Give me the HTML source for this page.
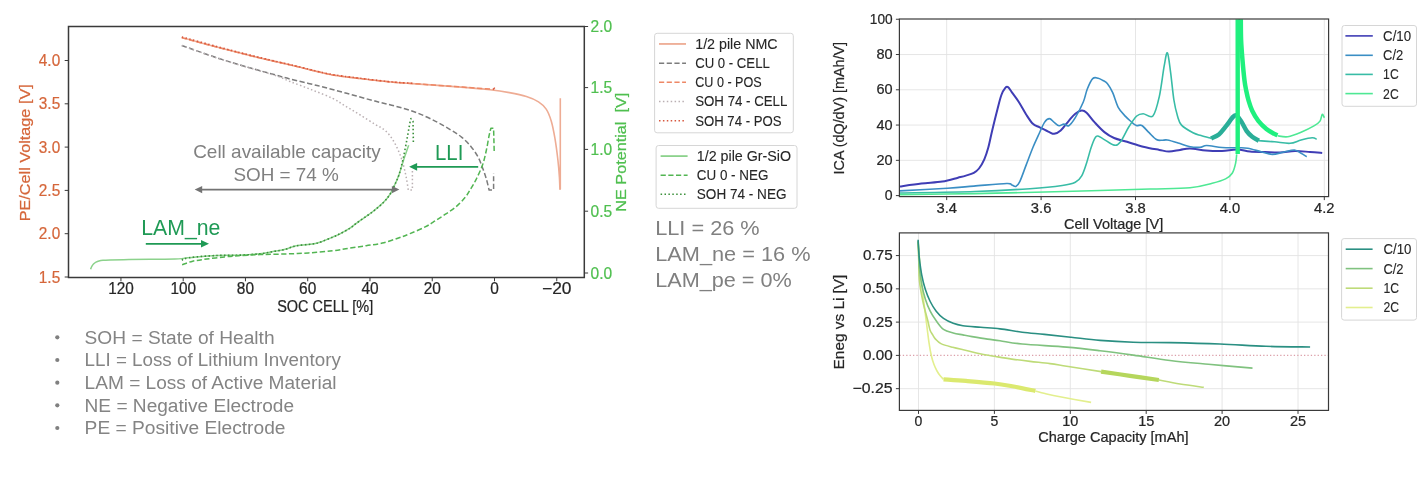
<!DOCTYPE html>
<html><head><meta charset="utf-8"><style>
html,body{margin:0;padding:0;background:#fff;width:1424px;height:495px;overflow:hidden;}
svg{display:block;font-family:"Liberation Sans", sans-serif;filter:blur(0.3px);}
</style></head><body>
<svg width="1424" height="495" viewBox="0 0 1424 495">
<path d="M181.8,37.6 C188.25,39.35 208.23,44.88 220.5,48.1 C232.77,51.32 242.87,53.87 255.4,56.9 C267.93,59.93 283.27,63.37 295.7,66.3 C308.13,69.23 319.02,72.42 330,74.5 C340.98,76.58 351.07,77.5 361.6,78.8 C372.13,80.1 384.77,81.5 393.2,82.3 C401.63,83.1 400.9,82.8 412.2,83.6 C423.5,84.4 448.03,86.08 461,87.1 C473.97,88.12 481.93,88.78 490,89.7 C498.07,90.62 503.33,91.47 509.4,92.6 C515.47,93.73 521.55,94.97 526.4,96.5 C531.25,98.03 535.2,99.7 538.5,101.8 C541.8,103.9 544.07,105.87 546.2,109.1 C548.33,112.33 549.85,116.35 551.3,121.2 C552.75,126.05 553.8,131.73 554.9,138.2 C556,144.67 557.15,153.53 557.9,160 C558.65,166.47 559.07,172.15 559.4,177 C559.73,181.85 559.82,187.08 559.9,189.1 L560.3,189.1 L560.3,98.2" fill="none" stroke="#eeac94" stroke-width="1.6" stroke-linejoin="round" />
<path d="M181.8,37.8 C188.25,39.5 208.23,44.83 220.5,48 C232.77,51.17 242.87,53.77 255.4,56.8 C267.93,59.83 283.27,63.27 295.7,66.2 C308.13,69.13 319.02,72.32 330,74.4 C340.98,76.48 351.07,77.4 361.6,78.7 C372.13,80 384.77,81.4 393.2,82.2 C401.63,83 400.9,82.7 412.2,83.5 C423.5,84.3 447.33,86.02 461,87 C474.67,87.98 488.67,89 494.2,89.4" fill="none" stroke="#ee8866" stroke-width="1.5" stroke-dasharray="5.2 2.5" stroke-linejoin="round" />
<path d="M181.8,36.9 C188.25,38.67 208.23,44.23 220.5,47.5 C232.77,50.77 242.87,53.42 255.4,56.5 C267.93,59.58 283.27,63.07 295.7,66 C308.13,68.93 319.02,72.02 330,74.1 C340.98,76.18 351.07,77.18 361.6,78.5 C372.13,79.82 384.77,81.2 393.2,82 C401.63,82.8 409.03,83.08 412.2,83.3" fill="none" stroke="#d8583f" stroke-width="1.6" stroke-dasharray="1.5 2.4" stroke-linejoin="round" />
<line x1="493.2" y1="89.5" x2="494.8" y2="87.6" stroke="#d8583f" stroke-width="1.4" />
<path d="M181.8,45.5 C187.67,47.55 206.42,54.3 217,57.8 C227.58,61.3 235.53,63.63 245.3,66.5 C255.07,69.37 268.15,72.92 275.6,75 C283.05,77.08 282.88,77.2 290,79 C297.12,80.8 308.87,83.42 318.3,85.8 C327.73,88.18 337.15,90.75 346.6,93.3 C356.05,95.85 366.9,98.97 375,101.1 C383.1,103.23 388.47,104.25 395.2,106.1 C401.93,107.95 408.67,109.67 415.4,112.2 C422.13,114.73 429.68,118.33 435.6,121.3 C441.52,124.27 446.53,127.33 450.9,130 C455.27,132.67 458.47,134.57 461.8,137.3 C465.13,140.03 468.17,143.07 470.9,146.4 C473.63,149.73 476.23,153.67 478.2,157.3 C480.17,160.93 481.33,164.57 482.7,168.2 C484.07,171.83 485.33,175.47 486.4,179.1 C487.47,182.73 488.65,188.18 489.1,190 L493.6,190 L493.6,173.6" fill="none" stroke="#7c7c7c" stroke-width="1.5" stroke-dasharray="5.2 2.5" stroke-linejoin="round" />
<path d="M181.8,45.6 C187.67,47.67 206.42,54.48 217,58 C227.58,61.52 235.53,63.77 245.3,66.7 C255.07,69.63 268.15,73.13 275.6,75.6 C283.05,78.07 284.07,79.17 290,81.5 C295.93,83.83 304.13,86.8 311.2,89.6 C318.27,92.4 326.5,95.43 332.4,98.3 C338.3,101.17 341.88,103.97 346.6,106.8 C351.32,109.63 355.97,112.38 360.7,115.3 C365.43,118.22 370.93,121.78 375,124.3 C379.07,126.82 382.07,127.7 385.1,130.4 C388.13,133.1 390.85,136.8 393.2,140.5 C395.55,144.2 397.52,148.57 399.2,152.6 C400.88,156.63 402.12,160.5 403.3,164.7 C404.48,168.9 405.47,173.58 406.3,177.8 C407.13,182.02 407.97,187.97 408.3,190 L412.4,190 L412.4,171" fill="none" stroke="#bab0b3" stroke-width="1.5" stroke-dasharray="1.5 2.4" stroke-linejoin="round" />
<path d="M90.6,269.2 C90.8,268.72 91.32,267.17 91.8,266.3 C92.28,265.43 92.8,264.7 93.5,264 C94.2,263.3 95.08,262.62 96,262.1 C96.92,261.58 97.83,261.2 99,260.9 C100.17,260.6 101.17,260.45 103,260.3 C104.83,260.15 105.67,260.12 110,260 C114.33,259.88 122.33,259.72 129,259.6 C135.67,259.48 142.33,259.4 150,259.3 C157.67,259.2 169.42,259.15 175,259 C180.58,258.85 179.97,258.75 183.5,258.4 C187.03,258.05 190.55,257.38 196.2,256.9 C201.85,256.42 210.33,255.78 217.4,255.5 C224.47,255.22 231.5,255.48 238.6,255.2 C245.7,254.92 254.42,254.38 260,253.8 C265.58,253.22 268.07,252.4 272.1,251.7 C276.13,251 280.17,250.58 284.2,249.6 C288.23,248.62 291.58,246.73 296.3,245.8 C301.02,244.87 308.45,244.63 312.5,244 C316.55,243.37 317.23,243.15 320.6,242 C323.97,240.85 329.47,238.47 332.7,237.1 C335.93,235.73 337.12,235.28 340,233.8 C342.88,232.32 347.3,229.95 350,228.2 C352.7,226.45 352.48,226 356.2,223.3 C359.92,220.6 367.73,215.5 372.3,212 C376.87,208.5 380.63,205.27 383.6,202.3 C386.57,199.33 388.22,197.17 390.1,194.2 C391.98,191.23 393.42,187.73 394.9,184.5 C396.38,181.27 397.5,179.05 399,174.8 C400.5,170.55 402.62,162.97 403.9,159 C405.18,155.03 405.9,153.3 406.7,151 C407.5,148.7 408.37,146.17 408.7,145.2" fill="none" stroke="#8cd28c" stroke-width="1.5" stroke-linejoin="round" />
<path d="M182.1,260.5 C182.45,260.22 181.85,259.4 184.2,258.8 C186.55,258.2 190.67,257.45 196.2,256.9 C201.73,256.35 210.33,255.78 217.4,255.5 C224.47,255.22 231.5,255.48 238.6,255.2 C245.7,254.92 254.42,254.38 260,253.8 C265.58,253.22 268.07,252.4 272.1,251.7 C276.13,251 280.17,250.58 284.2,249.6 C288.23,248.62 291.58,246.73 296.3,245.8 C301.02,244.87 308.45,244.63 312.5,244 C316.55,243.37 317.23,243.15 320.6,242 C323.97,240.85 329.47,238.47 332.7,237.1 C335.93,235.73 337.12,235.28 340,233.8 C342.88,232.32 347.3,229.95 350,228.2 C352.7,226.45 352.48,226 356.2,223.3 C359.92,220.6 367.73,215.5 372.3,212 C376.87,208.5 380.63,205.27 383.6,202.3 C386.57,199.33 388.22,197.17 390.1,194.2 C391.98,191.23 393.42,187.73 394.9,184.5 C396.38,181.27 397.6,179.22 399,174.8 C400.4,170.38 401.92,164.23 403.3,158 C404.68,151.77 406.12,143.68 407.3,137.4 C408.48,131.12 409.72,123.33 410.4,120.3 C411.08,117.27 411.23,119.38 411.4,119.2 L413,121.3 L413.4,144.5" fill="none" stroke="#3a8f3a" stroke-width="1.6" stroke-dasharray="1.5 2.4" stroke-linejoin="round" />
<path d="M182.1,264.7 C183.87,264.12 188.58,262.15 192.7,261.2 C196.82,260.25 201.5,259.72 206.8,259 C212.1,258.28 219.2,257.45 224.5,256.9 C229.8,256.35 232.68,256.08 238.6,255.7 C244.52,255.32 252.4,254.88 260,254.6 C267.6,254.32 276.12,254.28 284.2,254 C292.28,253.72 300.42,253.43 308.5,252.9 C316.58,252.37 325.78,251.6 332.7,250.8 C339.62,250 344.42,248.95 350,248.1 C355.58,247.25 360.82,246.53 366.2,245.7 C371.58,244.87 376.92,244.38 382.3,243.1 C387.68,241.82 393.88,239.58 398.5,238 C403.12,236.42 405.55,235.45 410,233.6 C414.45,231.75 420.98,229.03 425.2,226.9 C429.42,224.77 431.93,222.92 435.3,220.8 C438.67,218.68 442.03,216.47 445.4,214.2 C448.77,211.93 452.23,209.97 455.5,207.2 C458.77,204.43 462.43,200.7 465,197.6 C467.57,194.5 468.97,191.78 470.9,188.6 C472.83,185.42 474.63,182.52 476.6,178.5 C478.57,174.48 481.07,169.25 482.7,164.5 C484.33,159.75 485.33,154.83 486.4,150 C487.47,145.17 488.35,139.13 489.1,135.5 C489.85,131.87 490.6,129.42 490.9,128.2 L493.6,128.2 L494.2,151.8" fill="none" stroke="#52b552" stroke-width="1.5" stroke-dasharray="5.2 2.5" stroke-linejoin="round" />
<rect x="68.5" y="26.5" width="515.8" height="251" fill="none" stroke="#3a3a3a" stroke-width="1.5" rx="0" />
<line x1="64.7" y1="277" x2="68.5" y2="277" stroke="#3a3a3a" stroke-width="1" />
<text x="60.2" y="282.6" font-size="15.8" fill="#d5663a" text-anchor="end" textLength="21.4" lengthAdjust="spacingAndGlyphs" stroke="#d5663a" stroke-width="0.22">1.5</text>
<line x1="64.7" y1="233.7" x2="68.5" y2="233.7" stroke="#3a3a3a" stroke-width="1" />
<text x="60.2" y="239.3" font-size="15.8" fill="#d5663a" text-anchor="end" textLength="21.4" lengthAdjust="spacingAndGlyphs" stroke="#d5663a" stroke-width="0.22">2.0</text>
<line x1="64.7" y1="190.4" x2="68.5" y2="190.4" stroke="#3a3a3a" stroke-width="1" />
<text x="60.2" y="196" font-size="15.8" fill="#d5663a" text-anchor="end" textLength="21.4" lengthAdjust="spacingAndGlyphs" stroke="#d5663a" stroke-width="0.22">2.5</text>
<line x1="64.7" y1="147.1" x2="68.5" y2="147.1" stroke="#3a3a3a" stroke-width="1" />
<text x="60.2" y="152.7" font-size="15.8" fill="#d5663a" text-anchor="end" textLength="21.4" lengthAdjust="spacingAndGlyphs" stroke="#d5663a" stroke-width="0.22">3.0</text>
<line x1="64.7" y1="103.8" x2="68.5" y2="103.8" stroke="#3a3a3a" stroke-width="1" />
<text x="60.2" y="109.4" font-size="15.8" fill="#d5663a" text-anchor="end" textLength="21.4" lengthAdjust="spacingAndGlyphs" stroke="#d5663a" stroke-width="0.22">3.5</text>
<line x1="64.7" y1="60.5" x2="68.5" y2="60.5" stroke="#3a3a3a" stroke-width="1" />
<text x="60.2" y="66.1" font-size="15.8" fill="#d5663a" text-anchor="end" textLength="21.4" lengthAdjust="spacingAndGlyphs" stroke="#d5663a" stroke-width="0.22">4.0</text>
<line x1="584.3" y1="273" x2="588.1" y2="273" stroke="#3a3a3a" stroke-width="1" />
<text x="590.6" y="278.6" font-size="15.8" fill="#4fbf4f" textLength="21.6" lengthAdjust="spacingAndGlyphs" stroke="#4fbf4f" stroke-width="0.22">0.0</text>
<line x1="584.3" y1="211.2" x2="588.1" y2="211.2" stroke="#3a3a3a" stroke-width="1" />
<text x="590.6" y="216.8" font-size="15.8" fill="#4fbf4f" textLength="21.6" lengthAdjust="spacingAndGlyphs" stroke="#4fbf4f" stroke-width="0.22">0.5</text>
<line x1="584.3" y1="149.4" x2="588.1" y2="149.4" stroke="#3a3a3a" stroke-width="1" />
<text x="590.6" y="155" font-size="15.8" fill="#4fbf4f" textLength="21.6" lengthAdjust="spacingAndGlyphs" stroke="#4fbf4f" stroke-width="0.22">1.0</text>
<line x1="584.3" y1="87.6" x2="588.1" y2="87.6" stroke="#3a3a3a" stroke-width="1" />
<text x="590.6" y="93.2" font-size="15.8" fill="#4fbf4f" textLength="21.6" lengthAdjust="spacingAndGlyphs" stroke="#4fbf4f" stroke-width="0.22">1.5</text>
<line x1="584.3" y1="26.5" x2="588.1" y2="26.5" stroke="#3a3a3a" stroke-width="1" />
<text x="590.6" y="32.1" font-size="15.8" fill="#4fbf4f" textLength="21.6" lengthAdjust="spacingAndGlyphs" stroke="#4fbf4f" stroke-width="0.22">2.0</text>
<line x1="120.94" y1="277.5" x2="120.94" y2="281.3" stroke="#3a3a3a" stroke-width="1" />
<text x="120.94" y="294.4" font-size="15.6" fill="#262626" text-anchor="middle" textLength="25.6" lengthAdjust="spacingAndGlyphs" stroke="#262626" stroke-width="0.22">120</text>
<line x1="183.2" y1="277.5" x2="183.2" y2="281.3" stroke="#3a3a3a" stroke-width="1" />
<text x="183.2" y="294.4" font-size="15.6" fill="#262626" text-anchor="middle" textLength="25.6" lengthAdjust="spacingAndGlyphs" stroke="#262626" stroke-width="0.22">100</text>
<line x1="245.46" y1="277.5" x2="245.46" y2="281.3" stroke="#3a3a3a" stroke-width="1" />
<text x="245.46" y="294.4" font-size="15.6" fill="#262626" text-anchor="middle" textLength="17.2" lengthAdjust="spacingAndGlyphs" stroke="#262626" stroke-width="0.22">80</text>
<line x1="307.72" y1="277.5" x2="307.72" y2="281.3" stroke="#3a3a3a" stroke-width="1" />
<text x="307.72" y="294.4" font-size="15.6" fill="#262626" text-anchor="middle" textLength="17.2" lengthAdjust="spacingAndGlyphs" stroke="#262626" stroke-width="0.22">60</text>
<line x1="369.98" y1="277.5" x2="369.98" y2="281.3" stroke="#3a3a3a" stroke-width="1" />
<text x="369.98" y="294.4" font-size="15.6" fill="#262626" text-anchor="middle" textLength="17.2" lengthAdjust="spacingAndGlyphs" stroke="#262626" stroke-width="0.22">40</text>
<line x1="432.24" y1="277.5" x2="432.24" y2="281.3" stroke="#3a3a3a" stroke-width="1" />
<text x="432.24" y="294.4" font-size="15.6" fill="#262626" text-anchor="middle" textLength="17.2" lengthAdjust="spacingAndGlyphs" stroke="#262626" stroke-width="0.22">20</text>
<line x1="494.5" y1="277.5" x2="494.5" y2="281.3" stroke="#3a3a3a" stroke-width="1" />
<text x="494.5" y="294.4" font-size="15.6" fill="#262626" text-anchor="middle" textLength="8.6" lengthAdjust="spacingAndGlyphs" stroke="#262626" stroke-width="0.22">0</text>
<line x1="556.76" y1="277.5" x2="556.76" y2="281.3" stroke="#3a3a3a" stroke-width="1" />
<text x="556.76" y="294.4" font-size="15.6" fill="#262626" text-anchor="middle" textLength="29.4" lengthAdjust="spacingAndGlyphs" stroke="#262626" stroke-width="0.22">−20</text>
<text x="325.2" y="312" font-size="15.6" fill="#262626" text-anchor="middle" textLength="96" lengthAdjust="spacingAndGlyphs" stroke="#262626" stroke-width="0.22">SOC CELL [%]</text>
<text x="29.9" y="152.8" font-size="14.2" fill="#d5663a" text-anchor="middle" textLength="137" lengthAdjust="spacingAndGlyphs" transform="rotate(-90 29.9 152.8)" stroke="#d5663a" stroke-width="0.22">PE/Cell Voltage [V]</text>
<text x="626.4" y="152.2" font-size="14.2" fill="#4fbf4f" text-anchor="middle" textLength="119" lengthAdjust="spacingAndGlyphs" transform="rotate(-90 626.4 152.2)" stroke="#4fbf4f" stroke-width="0.22">NE Potential  [V]</text>
<text x="193.2" y="157.8" font-size="18.6" fill="#808080" textLength="187.5" lengthAdjust="spacingAndGlyphs" >Cell available capacity</text>
<text x="233.4" y="180.7" font-size="18.6" fill="#808080" textLength="105.5" lengthAdjust="spacingAndGlyphs" >SOH = 74 %</text>
<line x1="200" y1="189.6" x2="394" y2="189.6" stroke="#737373" stroke-width="1.6" />
<path d="M194.7,189.6 L202.2,185.9 L202.2,193.3 Z" fill="#737373"/>
<path d="M399.4,189.6 L391.9,185.9 L391.9,193.3 Z" fill="#737373"/>
<text x="435" y="159.8" font-size="21.4" fill="#1f9a55" textLength="28.3" lengthAdjust="spacingAndGlyphs" >LLI</text>
<line x1="415" y1="166.9" x2="478.2" y2="166.9" stroke="#1f9a55" stroke-width="1.8" />
<path d="M409.1,166.8 L417.1,162.9 L417.1,170.7 Z" fill="#1f9a55"/>
<text x="141.2" y="235" font-size="21.4" fill="#1f9a55" textLength="79.2" lengthAdjust="spacingAndGlyphs" >LAM_ne</text>
<line x1="145.8" y1="243.9" x2="202" y2="243.9" stroke="#1f9a55" stroke-width="1.8" />
<path d="M209,243.8 L201,240 L201,247.6 Z" fill="#1f9a55"/>
<rect x="654.6" y="33.3" width="138.7" height="99.5" fill="#ffffff" stroke="#d6d6d6" stroke-width="1" rx="2.5" />
<line x1="659" y1="43.95" x2="686" y2="43.95" stroke="#eeac94" stroke-width="1.8" />
<text x="695.2" y="48.75" font-size="14" fill="#262626" textLength="82.5" lengthAdjust="spacingAndGlyphs" stroke="#262626" stroke-width="0.1">1/2 pile NMC</text>
<line x1="659" y1="63.14" x2="686" y2="63.14" stroke="#7c7c7c" stroke-width="1.5" stroke-dasharray="5.2 2.5" />
<text x="695.2" y="67.94" font-size="14" fill="#262626" textLength="74.6" lengthAdjust="spacingAndGlyphs" stroke="#262626" stroke-width="0.1">CU 0 - CELL</text>
<line x1="659" y1="82.33" x2="686" y2="82.33" stroke="#ee8866" stroke-width="1.5" stroke-dasharray="5.2 2.5" />
<text x="695.2" y="87.13" font-size="14" fill="#262626" textLength="66.5" lengthAdjust="spacingAndGlyphs" stroke="#262626" stroke-width="0.1">CU 0 - POS</text>
<line x1="659" y1="101.52" x2="686" y2="101.52" stroke="#bab0b3" stroke-width="1.5" stroke-dasharray="1.5 2.4" />
<text x="695.2" y="106.32" font-size="14" fill="#262626" textLength="92.2" lengthAdjust="spacingAndGlyphs" stroke="#262626" stroke-width="0.1">SOH 74 - CELL</text>
<line x1="659" y1="120.71" x2="686" y2="120.71" stroke="#d8583f" stroke-width="1.5" stroke-dasharray="1.5 2.4" />
<text x="695.2" y="125.51" font-size="14" fill="#262626" textLength="86.3" lengthAdjust="spacingAndGlyphs" stroke="#262626" stroke-width="0.1">SOH 74 - POS</text>
<rect x="656.1" y="145.5" width="140.9" height="62.8" fill="#ffffff" stroke="#d6d6d6" stroke-width="1" rx="2.5" />
<line x1="660.6" y1="156.1" x2="687.6" y2="156.1" stroke="#8cd28c" stroke-width="1.8" />
<text x="696.8" y="160.9" font-size="14" fill="#262626" textLength="94.3" lengthAdjust="spacingAndGlyphs" stroke="#262626" stroke-width="0.1">1/2 pile Gr-SiO</text>
<line x1="660.6" y1="175.2" x2="687.6" y2="175.2" stroke="#52b552" stroke-width="1.5" stroke-dasharray="5.2 2.5" />
<text x="696.8" y="180" font-size="14" fill="#262626" textLength="71.6" lengthAdjust="spacingAndGlyphs" stroke="#262626" stroke-width="0.1">CU 0 - NEG</text>
<line x1="660.6" y1="194.3" x2="687.6" y2="194.3" stroke="#3a8f3a" stroke-width="1.5" stroke-dasharray="1.5 2.4" />
<text x="696.8" y="199.1" font-size="14" fill="#262626" textLength="89.7" lengthAdjust="spacingAndGlyphs" stroke="#262626" stroke-width="0.1">SOH 74 - NEG</text>
<text x="655.2" y="234.6" font-size="21" fill="#808080" textLength="104.5" lengthAdjust="spacingAndGlyphs" >LLI = 26 %</text>
<text x="655.2" y="261" font-size="21" fill="#808080" textLength="155.3" lengthAdjust="spacingAndGlyphs" >LAM_ne = 16 %</text>
<text x="655.2" y="286.6" font-size="21" fill="#808080" textLength="136.5" lengthAdjust="spacingAndGlyphs" >LAM_pe = 0%</text>
<circle cx="57.3" cy="337.3" r="2.1" fill="#808080"/>
<text x="84.6" y="343.5" font-size="17.6" fill="#848484" textLength="190" lengthAdjust="spacingAndGlyphs" >SOH = State of Health</text>
<circle cx="57.3" cy="359.98" r="2.1" fill="#808080"/>
<text x="84.6" y="366.18" font-size="17.6" fill="#848484" textLength="256.2" lengthAdjust="spacingAndGlyphs" >LLI = Loss of Lithium Inventory</text>
<circle cx="57.3" cy="382.66" r="2.1" fill="#808080"/>
<text x="84.6" y="388.86" font-size="17.6" fill="#848484" textLength="251.9" lengthAdjust="spacingAndGlyphs" >LAM = Loss of Active Material</text>
<circle cx="57.3" cy="405.34" r="2.1" fill="#808080"/>
<text x="84.6" y="411.54" font-size="17.6" fill="#848484" textLength="209.5" lengthAdjust="spacingAndGlyphs" >NE = Negative Electrode</text>
<circle cx="57.3" cy="428.02" r="2.1" fill="#808080"/>
<text x="84.6" y="434.22" font-size="17.6" fill="#848484" textLength="200.9" lengthAdjust="spacingAndGlyphs" >PE = Positive Electrode</text>
<line x1="946.7" y1="19" x2="946.7" y2="196.6" stroke="#e3e3e3" stroke-width="0.9" />
<line x1="1041.1" y1="19" x2="1041.1" y2="196.6" stroke="#e3e3e3" stroke-width="0.9" />
<line x1="1135.5" y1="19" x2="1135.5" y2="196.6" stroke="#e3e3e3" stroke-width="0.9" />
<line x1="1229.9" y1="19" x2="1229.9" y2="196.6" stroke="#e3e3e3" stroke-width="0.9" />
<line x1="1324.3" y1="19" x2="1324.3" y2="196.6" stroke="#e3e3e3" stroke-width="0.9" />
<line x1="899.4" y1="160.33" x2="1328.6" y2="160.33" stroke="#e3e3e3" stroke-width="0.9" />
<line x1="899.4" y1="125.06" x2="1328.6" y2="125.06" stroke="#e3e3e3" stroke-width="0.9" />
<line x1="899.4" y1="89.79" x2="1328.6" y2="89.79" stroke="#e3e3e3" stroke-width="0.9" />
<line x1="899.4" y1="54.52" x2="1328.6" y2="54.52" stroke="#e3e3e3" stroke-width="0.9" />
<path d="M899.4,186.6 C903.05,186.1 914.15,184.43 921.3,183.6 C928.45,182.77 936.18,182.58 942.3,181.6 C948.42,180.62 954.07,178.7 958,177.7 C961.93,176.7 963.27,176.42 965.9,175.6 C968.53,174.78 971.62,173.98 973.8,172.8 C975.98,171.62 977.25,170.75 979,168.5 C980.75,166.25 982.75,162.8 984.3,159.3 C985.85,155.8 986.98,152.32 988.3,147.5 C989.62,142.68 990.68,136.75 992.2,130.4 C993.72,124.05 995.87,115.3 997.4,109.4 C998.93,103.5 1000.08,98.58 1001.4,95 C1002.72,91.42 1004.2,89.22 1005.3,87.9 C1006.4,86.58 1006.9,86.37 1008,87.1 C1009.1,87.83 1010.15,89.9 1011.9,92.3 C1013.65,94.7 1016.1,97.77 1018.5,101.5 C1020.9,105.23 1023.9,110.98 1026.3,114.7 C1028.7,118.42 1030.67,121.7 1032.9,123.8 C1035.13,125.9 1036.95,125.92 1039.7,127.3 C1042.45,128.68 1046.98,131.02 1049.4,132.1 C1051.82,133.18 1052.32,134.07 1054.2,133.8 C1056.08,133.53 1058.27,132.67 1060.7,130.5 C1063.13,128.33 1066.37,123.6 1068.8,120.8 C1071.23,118 1073.15,115.42 1075.3,113.7 C1077.45,111.98 1079.82,110.67 1081.7,110.5 C1083.58,110.33 1084.43,110.72 1086.6,112.7 C1088.77,114.68 1091.73,119.17 1094.7,122.4 C1097.67,125.63 1101.17,129.5 1104.4,132.1 C1107.63,134.7 1110.33,136.38 1114.1,138 C1117.87,139.62 1122.15,140.35 1127,141.8 C1131.85,143.25 1137.82,145.35 1143.2,146.7 C1148.58,148.05 1155,149.1 1159.3,149.9 C1163.6,150.7 1165.55,151.5 1169,151.5 C1172.45,151.5 1176.5,150.4 1180,149.9 C1183.5,149.4 1185.67,148.4 1190,148.5 C1194.33,148.6 1200.67,150.08 1206,150.5 C1211.33,150.92 1216.83,151.17 1222,151 C1227.17,150.83 1232.33,149.42 1237,149.5 C1241.67,149.58 1245.33,151.08 1250,151.5 C1254.67,151.92 1260,151.83 1265,152 C1270,152.17 1275,152.67 1280,152.5 C1285,152.33 1290,151.08 1295,151 C1300,150.92 1305.47,151.67 1310,152 C1314.53,152.33 1320.17,152.83 1322.2,153" fill="none" stroke="#3f3db5" stroke-width="2" stroke-linejoin="round" />
<path d="M899.4,190.9 C907.42,190.45 935.1,189 947.5,188.2 C959.9,187.4 963.95,186.88 973.8,186.1 C983.65,185.32 1000.25,183.68 1006.6,183.5 C1012.95,183.32 1010.37,184.52 1011.9,185 C1013.43,185.48 1014.48,186.97 1015.8,186.4 C1017.12,185.83 1018.05,185.23 1019.8,181.6 C1021.55,177.97 1024.12,170.28 1026.3,164.6 C1028.48,158.92 1030.92,152.32 1032.9,147.5 C1034.88,142.68 1036.27,139.88 1038.2,135.7 C1040.13,131.52 1042.63,125.25 1044.5,122.4 C1046.37,119.55 1047.78,118.6 1049.4,118.6 C1051.02,118.6 1052.58,121.22 1054.2,122.4 C1055.82,123.58 1057.48,125.42 1059.1,125.7 C1060.72,125.98 1062.28,124.1 1063.9,124.1 C1065.52,124.1 1066.9,126.78 1068.8,125.7 C1070.7,124.62 1072.88,121.55 1075.3,117.6 C1077.72,113.65 1081.3,106.77 1083.3,102 C1085.3,97.23 1085.73,92.9 1087.3,89 C1088.87,85.1 1090.88,80.4 1092.7,78.6 C1094.52,76.8 1096.48,77.88 1098.2,78.2 C1099.92,78.52 1101.48,79.6 1103,80.5 C1104.52,81.4 1105.68,81.57 1107.3,83.6 C1108.92,85.63 1110.88,88.75 1112.7,92.7 C1114.52,96.65 1116.07,103.35 1118.2,107.3 C1120.33,111.25 1123.37,114.03 1125.5,116.4 C1127.63,118.77 1129.18,119.98 1131,121.5 C1132.82,123.02 1134.6,124.83 1136.4,125.5 C1138.2,126.17 1139.68,124.3 1141.8,125.5 C1143.92,126.7 1146.67,130.37 1149.1,132.7 C1151.53,135.03 1154.25,138.23 1156.4,139.5 C1158.55,140.77 1160.18,140.22 1162,140.3 C1163.82,140.38 1164.6,139.57 1167.3,140 C1170,140.43 1174.57,141.82 1178.2,142.9 C1181.83,143.98 1185.47,145.77 1189.1,146.5 C1192.73,147.23 1197.07,147.47 1200,147.3 C1202.93,147.13 1203.03,145.47 1206.7,145.5 C1210.37,145.53 1217,147.12 1222,147.5 C1227,147.88 1232.4,147.68 1236.7,147.8 C1241,147.92 1243.73,147.53 1247.8,148.2 C1251.87,148.87 1257.03,150.77 1261.1,151.8 C1265.17,152.83 1268.5,154.33 1272.2,154.4 C1275.9,154.47 1279.6,152.93 1283.3,152.2 C1287,151.47 1291.43,149.82 1294.4,150 C1297.37,150.18 1299.05,152.18 1301.1,153.3 C1303.15,154.42 1305.77,156.13 1306.7,156.7" fill="none" stroke="#3a8ec4" stroke-width="1.6" stroke-linejoin="round" />
<path d="M899.4,193 C912,192.75 953.23,192.22 975,191.5 C996.77,190.78 1015.45,189.7 1030,188.7 C1044.55,187.7 1054.75,186.57 1062.3,185.5 C1069.85,184.43 1072.07,183.92 1075.3,182.3 C1078.53,180.68 1079.82,179.03 1081.7,175.8 C1083.58,172.57 1084.98,167.75 1086.6,162.9 C1088.22,158.05 1089.78,151.13 1091.4,146.7 C1093.02,142.27 1094.42,137.65 1096.3,136.3 C1098.18,134.95 1099.73,137.13 1102.7,138.6 C1105.67,140.07 1111.13,144.57 1114.1,145.1 C1117.07,145.63 1118.08,144.77 1120.5,141.8 C1122.92,138.83 1125.9,131.6 1128.6,127.3 C1131.3,123 1134.27,118.27 1136.7,116 C1139.13,113.73 1140.5,113.7 1143.2,113.7 C1145.9,113.7 1150.22,118.85 1152.9,116 C1155.58,113.15 1157.42,104.95 1159.3,96.6 C1161.18,88.25 1162.85,73.18 1164.2,65.9 C1165.55,58.62 1166.33,51.83 1167.4,52.9 C1168.47,53.97 1169.52,64.45 1170.6,72.3 C1171.68,80.15 1172.75,92.72 1173.9,100 C1175.05,107.28 1176.23,111.82 1177.5,116 C1178.77,120.18 1178.92,122.3 1181.5,125.1 C1184.08,127.9 1189.73,131.05 1193,132.8 C1196.27,134.55 1198.08,134.67 1201.1,135.6 C1204.12,136.53 1209.43,137.93 1211.1,138.4" fill="none" stroke="#38bca6" stroke-width="1.6" stroke-linejoin="round" />
<path d="M1258.9,140.7 C1261.48,140.88 1269.22,141.37 1274.4,141.8 C1279.58,142.23 1285.55,143.6 1290,143.3 C1294.45,143 1297.4,140.92 1301.1,140 C1304.8,139.08 1309.6,137.92 1312.2,137.8 C1314.8,137.68 1315.95,139.05 1316.7,139.3" fill="none" stroke="#38bca6" stroke-width="1.6" stroke-linejoin="round" />
<path d="M1211.1,138.4 C1212.4,137.73 1216.48,136.35 1218.9,134.4 C1221.32,132.45 1223.2,129.65 1225.6,126.7 C1228,123.75 1231.45,118.55 1233.3,116.7 C1235.15,114.85 1235.4,114.87 1236.7,115.6 C1238,116.33 1239.43,118.52 1241.1,121.1 C1242.77,123.68 1244.85,128.5 1246.7,131.1 C1248.55,133.7 1250.17,135.1 1252.2,136.7 C1254.23,138.3 1257.78,140.03 1258.9,140.7" fill="none" stroke="#2aae98" stroke-width="4.5" stroke-linejoin="round" stroke-linecap="butt"/>
<path d="M899.4,194.6 C912,194.43 950.73,194.03 975,193.6 C999.27,193.17 1024.17,192.52 1045,192 C1065.83,191.48 1082.5,191 1100,190.5 C1117.5,190 1135,189.45 1150,189 C1165,188.55 1179.63,188.75 1190,187.8 C1200.37,186.85 1206.27,184.78 1212.2,183.3 C1218.13,181.82 1222.27,180.57 1225.6,178.9 C1228.93,177.23 1230.53,175.9 1232.2,173.3 C1233.87,170.7 1234.85,166.45 1235.6,163.3 C1236.35,160.15 1236.52,155.88 1236.7,154.4" fill="none" stroke="#4ee894" stroke-width="1.6" stroke-linejoin="round" />
<path d="M1277.5,135.8 C1279.22,135.95 1283.87,137.3 1287.8,136.7 C1291.73,136.1 1296.67,134.05 1301.1,132.2 C1305.53,130.35 1311.25,127.45 1314.4,125.6 C1317.55,123.75 1318.7,122.97 1320,121.1 C1321.3,119.23 1321.47,114.95 1322.2,114.4 C1322.93,113.85 1324.03,117.23 1324.4,117.8" fill="none" stroke="#4ee894" stroke-width="1.6" stroke-linejoin="round" />
<path d="M1237.7,154 L1237.7,19.2" fill="none" stroke="#1ff07e" stroke-width="4.4" stroke-linejoin="round" />
<path d="M1240.8,19.2 C1240.85,22.67 1240.82,33.17 1241.1,40 C1241.38,46.83 1241.93,53.47 1242.5,60.2 C1243.07,66.93 1243.88,75.35 1244.5,80.4 C1245.12,85.45 1245.52,87.13 1246.2,90.5 C1246.88,93.87 1247.6,97.23 1248.6,100.6 C1249.6,103.97 1250.58,107.33 1252.2,110.7 C1253.82,114.07 1255.93,117.77 1258.3,120.8 C1260.67,123.83 1263.72,126.72 1266.4,128.9 C1269.08,131.08 1272.55,132.83 1274.4,133.9 C1276.25,134.97 1276.98,135.07 1277.5,135.3" fill="none" stroke="#1ff07e" stroke-width="4.5" stroke-linejoin="round" />
<rect x="899.4" y="19" width="429.2" height="177.6" fill="none" stroke="#3a3a3a" stroke-width="1.2" rx="0" />
<line x1="895.9" y1="195.6" x2="899.4" y2="195.6" stroke="#3a3a3a" stroke-width="1" />
<text x="892.6" y="200.2" font-size="14.2" fill="#262626" text-anchor="end" textLength="7.8" lengthAdjust="spacingAndGlyphs" stroke="#262626" stroke-width="0.22">0</text>
<line x1="895.9" y1="160.33" x2="899.4" y2="160.33" stroke="#3a3a3a" stroke-width="1" />
<text x="892.6" y="164.93" font-size="14.2" fill="#262626" text-anchor="end" textLength="16.1" lengthAdjust="spacingAndGlyphs" stroke="#262626" stroke-width="0.22">20</text>
<line x1="895.9" y1="125.06" x2="899.4" y2="125.06" stroke="#3a3a3a" stroke-width="1" />
<text x="892.6" y="129.66" font-size="14.2" fill="#262626" text-anchor="end" textLength="16.1" lengthAdjust="spacingAndGlyphs" stroke="#262626" stroke-width="0.22">40</text>
<line x1="895.9" y1="89.79" x2="899.4" y2="89.79" stroke="#3a3a3a" stroke-width="1" />
<text x="892.6" y="94.39" font-size="14.2" fill="#262626" text-anchor="end" textLength="16.1" lengthAdjust="spacingAndGlyphs" stroke="#262626" stroke-width="0.22">60</text>
<line x1="895.9" y1="54.52" x2="899.4" y2="54.52" stroke="#3a3a3a" stroke-width="1" />
<text x="892.6" y="59.12" font-size="14.2" fill="#262626" text-anchor="end" textLength="16.1" lengthAdjust="spacingAndGlyphs" stroke="#262626" stroke-width="0.22">80</text>
<line x1="895.9" y1="19.25" x2="899.4" y2="19.25" stroke="#3a3a3a" stroke-width="1" />
<text x="892.6" y="23.85" font-size="14.2" fill="#262626" text-anchor="end" textLength="22.8" lengthAdjust="spacingAndGlyphs" stroke="#262626" stroke-width="0.22">100</text>
<line x1="946.7" y1="196.6" x2="946.7" y2="200.1" stroke="#3a3a3a" stroke-width="1" />
<text x="946.7" y="213.2" font-size="14.2" fill="#262626" text-anchor="middle" textLength="20.5" lengthAdjust="spacingAndGlyphs" stroke="#262626" stroke-width="0.22">3.4</text>
<line x1="1041.1" y1="196.6" x2="1041.1" y2="200.1" stroke="#3a3a3a" stroke-width="1" />
<text x="1041.1" y="213.2" font-size="14.2" fill="#262626" text-anchor="middle" textLength="20.5" lengthAdjust="spacingAndGlyphs" stroke="#262626" stroke-width="0.22">3.6</text>
<line x1="1135.5" y1="196.6" x2="1135.5" y2="200.1" stroke="#3a3a3a" stroke-width="1" />
<text x="1135.5" y="213.2" font-size="14.2" fill="#262626" text-anchor="middle" textLength="20.5" lengthAdjust="spacingAndGlyphs" stroke="#262626" stroke-width="0.22">3.8</text>
<line x1="1229.9" y1="196.6" x2="1229.9" y2="200.1" stroke="#3a3a3a" stroke-width="1" />
<text x="1229.9" y="213.2" font-size="14.2" fill="#262626" text-anchor="middle" textLength="20.5" lengthAdjust="spacingAndGlyphs" stroke="#262626" stroke-width="0.22">4.0</text>
<line x1="1324.3" y1="196.6" x2="1324.3" y2="200.1" stroke="#3a3a3a" stroke-width="1" />
<text x="1324.3" y="213.2" font-size="14.2" fill="#262626" text-anchor="middle" textLength="20.5" lengthAdjust="spacingAndGlyphs" stroke="#262626" stroke-width="0.22">4.2</text>
<text x="1113.6" y="229.2" font-size="14.2" fill="#262626" text-anchor="middle" textLength="99.2" lengthAdjust="spacingAndGlyphs" stroke="#262626" stroke-width="0.22">Cell Voltage [V]</text>
<text x="844.4" y="108.2" font-size="14.2" fill="#262626" text-anchor="middle" textLength="132.4" lengthAdjust="spacingAndGlyphs" transform="rotate(-90 844.4 108.2)" stroke="#262626" stroke-width="0.22">ICA (dQ/dV) [mAh/V]</text>
<rect x="1342" y="25.5" width="74.5" height="80.8" fill="#ffffff" stroke="#d6d6d6" stroke-width="1" rx="2.5" />
<line x1="1345.4" y1="35.9" x2="1372.8" y2="35.9" stroke="#3f3db5" stroke-width="1.6" />
<text x="1383.1" y="40.8" font-size="14.2" fill="#262626" textLength="28" lengthAdjust="spacingAndGlyphs" stroke="#262626" stroke-width="0.12">C/10</text>
<line x1="1345.4" y1="55.3" x2="1372.8" y2="55.3" stroke="#3a8ec4" stroke-width="1.6" />
<text x="1383.1" y="60.2" font-size="14.2" fill="#262626" textLength="20.2" lengthAdjust="spacingAndGlyphs" stroke="#262626" stroke-width="0.12">C/2</text>
<line x1="1345.4" y1="74.4" x2="1372.8" y2="74.4" stroke="#38bca6" stroke-width="1.6" />
<text x="1383.1" y="79.3" font-size="14.2" fill="#262626" textLength="15.6" lengthAdjust="spacingAndGlyphs" stroke="#262626" stroke-width="0.12">1C</text>
<line x1="1345.4" y1="93.6" x2="1372.8" y2="93.6" stroke="#4ee894" stroke-width="1.6" />
<text x="1383.1" y="98.5" font-size="14.2" fill="#262626" textLength="15.6" lengthAdjust="spacingAndGlyphs" stroke="#262626" stroke-width="0.12">2C</text>
<line x1="918.5" y1="232.9" x2="918.5" y2="410.4" stroke="#e3e3e3" stroke-width="0.9" />
<line x1="994.4" y1="232.9" x2="994.4" y2="410.4" stroke="#e3e3e3" stroke-width="0.9" />
<line x1="1070.3" y1="232.9" x2="1070.3" y2="410.4" stroke="#e3e3e3" stroke-width="0.9" />
<line x1="1146.2" y1="232.9" x2="1146.2" y2="410.4" stroke="#e3e3e3" stroke-width="0.9" />
<line x1="1222.1" y1="232.9" x2="1222.1" y2="410.4" stroke="#e3e3e3" stroke-width="0.9" />
<line x1="1298" y1="232.9" x2="1298" y2="410.4" stroke="#e3e3e3" stroke-width="0.9" />
<line x1="899.4" y1="255.57" x2="1328.5" y2="255.57" stroke="#e3e3e3" stroke-width="0.9" />
<line x1="899.4" y1="288.85" x2="1328.5" y2="288.85" stroke="#e3e3e3" stroke-width="0.9" />
<line x1="899.4" y1="322.12" x2="1328.5" y2="322.12" stroke="#e3e3e3" stroke-width="0.9" />
<line x1="899.4" y1="388.67" x2="1328.5" y2="388.67" stroke="#e3e3e3" stroke-width="0.9" />
<line x1="899.4" y1="355.4" x2="1328.5" y2="355.4" stroke="#dca0aa" stroke-width="1.2" stroke-dasharray="1.3 2.1" />
<path d="M918.1,242 C918.22,243.42 918.2,243.42 918.8,250.5 C919.4,257.58 920.62,273.98 921.7,284.5 C922.78,295.02 924.08,303.9 925.3,313.6 C926.52,323.3 927.98,335.63 929,342.7 C930.02,349.77 930.57,352.37 931.4,356 C932.23,359.63 933.07,362 934,364.5 C934.93,367 936,369.17 937,371 C938,372.83 938.92,374.12 940,375.5 C941.08,376.88 942.92,378.67 943.5,379.3" fill="none" stroke="#e3ef8e" stroke-width="1.6" stroke-linejoin="round" />
<path d="M1035.4,390.9 C1037,391.33 1040.9,392.52 1045,393.5 C1049.1,394.48 1052.32,395.32 1060,396.8 C1067.68,398.28 1085.92,401.47 1091.1,402.4" fill="none" stroke="#e3ef8e" stroke-width="1.6" stroke-linejoin="round" />
<path d="M943.5,379.3 C947.23,379.57 957.4,380.2 965.9,380.9 C974.4,381.6 986.78,382.6 994.5,383.5 C1002.22,384.4 1005.38,385.07 1012.2,386.3 C1019.02,387.53 1031.53,390.13 1035.4,390.9" fill="none" stroke="#dbe96f" stroke-width="4.2" stroke-linejoin="round" />
<path d="M918.1,242 C918.22,245.33 918.6,255.73 918.8,262 C919,268.27 918.62,273.02 919.3,279.6 C919.98,286.18 921.48,294.63 922.9,301.5 C924.32,308.37 926.62,316.05 927.8,320.8 C928.98,325.55 929.2,327.68 930,330 C930.8,332.32 931.68,333.18 932.6,334.7 C933.52,336.22 934.12,337.62 935.5,339.1 C936.88,340.58 938.03,342.23 940.9,343.6 C943.77,344.97 948.45,346.15 952.7,347.3 C956.95,348.45 961.85,349.42 966.4,350.5 C970.95,351.58 975.15,352.8 980,353.8 C984.85,354.8 990.2,355.62 995.5,356.5 C1000.8,357.38 1006.05,358.28 1011.8,359.1 C1017.55,359.92 1023.63,360.65 1030,361.4 C1036.37,362.15 1043.88,362.8 1050,363.6 C1056.12,364.4 1058.18,364.87 1066.7,366.2 C1075.22,367.53 1095.37,370.7 1101.1,371.6" fill="none" stroke="#bedb78" stroke-width="1.6" stroke-linejoin="round" />
<path d="M1158.9,380 C1162.42,380.67 1172.52,382.78 1180,384 C1187.48,385.22 1199.83,386.75 1203.8,387.3" fill="none" stroke="#bedb78" stroke-width="1.6" stroke-linejoin="round" />
<path d="M1101.1,371.6 C1105.92,372.3 1120.37,374.4 1130,375.8 C1139.63,377.2 1154.08,379.3 1158.9,380" fill="none" stroke="#b5d65c" stroke-width="4.2" stroke-linejoin="round" />
<path d="M918.1,241 C918.22,243.33 918.6,250.58 918.8,255 C919,259.42 918.82,262.58 919.3,267.5 C919.78,272.42 920.7,279.25 921.7,284.5 C922.7,289.75 923.88,294.55 925.3,299 C926.72,303.45 928.38,307.57 930.2,311.2 C932.02,314.83 933.98,317.78 936.2,320.8 C938.42,323.82 940.67,327.27 943.5,329.3 C946.33,331.33 949.97,332.07 953.2,333 C956.43,333.93 959.75,334.3 962.9,334.9 C966.05,335.5 968,335.9 972.1,336.6 C976.2,337.3 982.85,338.42 987.5,339.1 C992.15,339.78 994.22,339.88 1000,340.7 C1005.78,341.52 1011.08,342.93 1022.2,344 C1033.32,345.07 1053.73,345.98 1066.7,347.1 C1079.67,348.22 1088.9,349.37 1100,350.7 C1111.1,352.03 1121.63,353.47 1133.3,355.1 C1144.97,356.73 1157.48,358.97 1170,360.5 C1182.52,362.03 1194.65,363.03 1208.4,364.3 C1222.15,365.57 1245.15,367.47 1252.5,368.1" fill="none" stroke="#80c27f" stroke-width="1.6" stroke-linejoin="round" />
<path d="M918.1,239.8 C918.18,241.17 918.4,245 918.6,248 C918.8,251 918.78,253.33 919.3,257.8 C919.82,262.27 920.7,269.55 921.7,274.8 C922.7,280.05 923.88,284.85 925.3,289.3 C926.72,293.75 928.38,297.85 930.2,301.5 C932.02,305.15 933.98,308.38 936.2,311.2 C938.42,314.02 940.67,316.38 943.5,318.4 C946.33,320.42 949.97,322.08 953.2,323.3 C956.43,324.52 958.33,325.03 962.9,325.7 C967.47,326.37 974.42,326.77 980.6,327.3 C986.78,327.83 993.07,328.08 1000,328.9 C1006.93,329.72 1014.8,331.28 1022.2,332.2 C1029.6,333.12 1036.25,333.55 1044.4,334.4 C1052.55,335.25 1061.83,336.3 1071.1,337.3 C1080.37,338.3 1089.63,339.58 1100,340.4 C1110.37,341.22 1121.63,341.83 1133.3,342.2 C1144.97,342.57 1155.57,342.3 1170,342.6 C1184.43,342.9 1203.92,343.38 1219.9,344 C1235.88,344.62 1250.87,345.8 1265.9,346.3 C1280.93,346.8 1302.73,346.88 1310.1,347" fill="none" stroke="#2a8f82" stroke-width="1.6" stroke-linejoin="round" />
<rect x="899.4" y="232.9" width="429.1" height="177.5" fill="none" stroke="#3a3a3a" stroke-width="1.2" rx="0" />
<line x1="895.9" y1="255.57" x2="899.4" y2="255.57" stroke="#3a3a3a" stroke-width="1" />
<text x="892.6" y="260.18" font-size="14.2" fill="#262626" text-anchor="end" textLength="29.6" lengthAdjust="spacingAndGlyphs" stroke="#262626" stroke-width="0.22">0.75</text>
<line x1="895.9" y1="288.85" x2="899.4" y2="288.85" stroke="#3a3a3a" stroke-width="1" />
<text x="892.6" y="293.45" font-size="14.2" fill="#262626" text-anchor="end" textLength="29.6" lengthAdjust="spacingAndGlyphs" stroke="#262626" stroke-width="0.22">0.50</text>
<line x1="895.9" y1="322.12" x2="899.4" y2="322.12" stroke="#3a3a3a" stroke-width="1" />
<text x="892.6" y="326.73" font-size="14.2" fill="#262626" text-anchor="end" textLength="29.6" lengthAdjust="spacingAndGlyphs" stroke="#262626" stroke-width="0.22">0.25</text>
<line x1="895.9" y1="355.4" x2="899.4" y2="355.4" stroke="#3a3a3a" stroke-width="1" />
<text x="892.6" y="360" font-size="14.2" fill="#262626" text-anchor="end" textLength="29.6" lengthAdjust="spacingAndGlyphs" stroke="#262626" stroke-width="0.22">0.00</text>
<line x1="895.9" y1="388.67" x2="899.4" y2="388.67" stroke="#3a3a3a" stroke-width="1" />
<text x="892.6" y="393.27" font-size="14.2" fill="#262626" text-anchor="end" textLength="40" lengthAdjust="spacingAndGlyphs" stroke="#262626" stroke-width="0.22">−0.25</text>
<line x1="918.5" y1="410.4" x2="918.5" y2="413.9" stroke="#3a3a3a" stroke-width="1" />
<text x="918.5" y="426.2" font-size="14.2" fill="#262626" text-anchor="middle" textLength="7.8" lengthAdjust="spacingAndGlyphs" stroke="#262626" stroke-width="0.22">0</text>
<line x1="994.4" y1="410.4" x2="994.4" y2="413.9" stroke="#3a3a3a" stroke-width="1" />
<text x="994.4" y="426.2" font-size="14.2" fill="#262626" text-anchor="middle" textLength="7.8" lengthAdjust="spacingAndGlyphs" stroke="#262626" stroke-width="0.22">5</text>
<line x1="1070.3" y1="410.4" x2="1070.3" y2="413.9" stroke="#3a3a3a" stroke-width="1" />
<text x="1070.3" y="426.2" font-size="14.2" fill="#262626" text-anchor="middle" textLength="16.1" lengthAdjust="spacingAndGlyphs" stroke="#262626" stroke-width="0.22">10</text>
<line x1="1146.2" y1="410.4" x2="1146.2" y2="413.9" stroke="#3a3a3a" stroke-width="1" />
<text x="1146.2" y="426.2" font-size="14.2" fill="#262626" text-anchor="middle" textLength="16.1" lengthAdjust="spacingAndGlyphs" stroke="#262626" stroke-width="0.22">15</text>
<line x1="1222.1" y1="410.4" x2="1222.1" y2="413.9" stroke="#3a3a3a" stroke-width="1" />
<text x="1222.1" y="426.2" font-size="14.2" fill="#262626" text-anchor="middle" textLength="16.1" lengthAdjust="spacingAndGlyphs" stroke="#262626" stroke-width="0.22">20</text>
<line x1="1298" y1="410.4" x2="1298" y2="413.9" stroke="#3a3a3a" stroke-width="1" />
<text x="1298" y="426.2" font-size="14.2" fill="#262626" text-anchor="middle" textLength="16.1" lengthAdjust="spacingAndGlyphs" stroke="#262626" stroke-width="0.22">25</text>
<text x="1113.4" y="442.4" font-size="14.2" fill="#262626" text-anchor="middle" textLength="150.2" lengthAdjust="spacingAndGlyphs" stroke="#262626" stroke-width="0.22">Charge Capacity [mAh]</text>
<text x="844.4" y="322" font-size="14.2" fill="#262626" text-anchor="middle" textLength="94.8" lengthAdjust="spacingAndGlyphs" transform="rotate(-90 844.4 322)" stroke="#262626" stroke-width="0.22">Eneg vs Li [V]</text>
<rect x="1341.6" y="238.6" width="74.9" height="81.5" fill="#ffffff" stroke="#d6d6d6" stroke-width="1" rx="2.5" />
<line x1="1345.7" y1="249.2" x2="1372.6" y2="249.2" stroke="#2a8f82" stroke-width="1.6" />
<text x="1383.4" y="254.1" font-size="14.2" fill="#262626" textLength="28" lengthAdjust="spacingAndGlyphs" stroke="#262626" stroke-width="0.12">C/10</text>
<line x1="1345.7" y1="268.6" x2="1372.6" y2="268.6" stroke="#80c27f" stroke-width="1.6" />
<text x="1383.4" y="273.5" font-size="14.2" fill="#262626" textLength="20.2" lengthAdjust="spacingAndGlyphs" stroke="#262626" stroke-width="0.12">C/2</text>
<line x1="1345.7" y1="288.2" x2="1372.6" y2="288.2" stroke="#bedb78" stroke-width="1.6" />
<text x="1383.4" y="293.1" font-size="14.2" fill="#262626" textLength="15.6" lengthAdjust="spacingAndGlyphs" stroke="#262626" stroke-width="0.12">1C</text>
<line x1="1345.7" y1="307.5" x2="1372.6" y2="307.5" stroke="#e3ef8e" stroke-width="1.6" />
<text x="1383.4" y="312.4" font-size="14.2" fill="#262626" textLength="15.6" lengthAdjust="spacingAndGlyphs" stroke="#262626" stroke-width="0.12">2C</text>
</svg>
</body></html>
